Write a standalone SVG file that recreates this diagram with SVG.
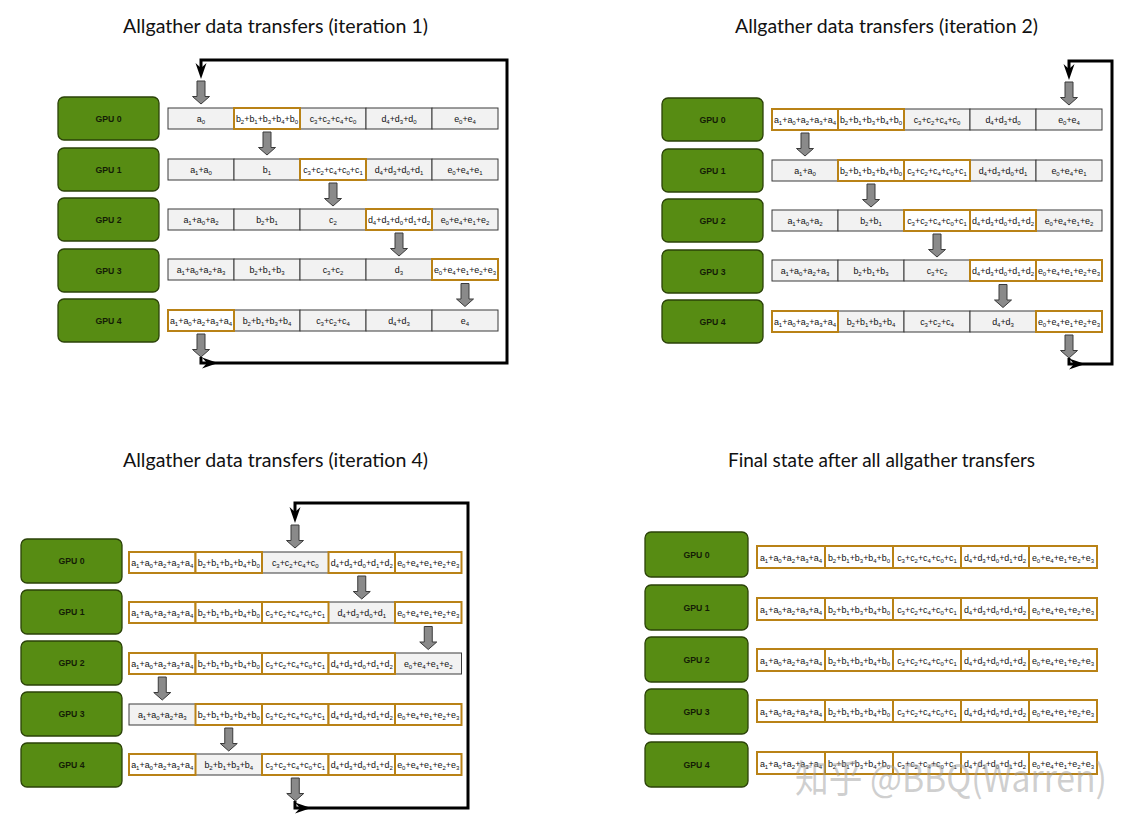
<svg xmlns="http://www.w3.org/2000/svg" xmlns:xlink="http://www.w3.org/1999/xlink" width="1137" height="828" viewBox="0 0 1137 828">
<style>
.ti{font-family:"Lato","Liberation Sans",sans-serif;font-size:19.5px;fill:#111;text-anchor:middle}
.g{fill:#578c13;stroke:#2b4208;stroke-width:1.3}
.gl{font-family:"Liberation Sans",Arial,sans-serif;font-weight:bold;font-size:8.7px;fill:#141c06;text-anchor:middle}
.c{fill:#f2f2f2;stroke:#3a3a3a;stroke-width:1}
.h{fill:#fff;stroke:#b98216;stroke-width:2}
.t{font-family:"Liberation Sans",Arial,sans-serif;font-size:8.9px;fill:#111;text-anchor:middle}
.s{font-size:6px;baseline-shift:-2px}
.ga{fill:#8a8a8a;stroke:#3a3a3a;stroke-width:1}
.lp{fill:none;stroke:#000;stroke-width:3}
.wm{font-family:"Noto Sans CJK SC","Liberation Sans",sans-serif;font-size:38px;fill:#a0a0a0;fill-opacity:0.5}
</style>
<defs>
<path id="ga" class="ga" d="M-4,0 H4 V15.5 H8.5 L0,23 L-8.5,15.5 H-4 Z"/>
<path id="hd" d="M0,0 L-5.5,-16 L0,-11 L5.5,-16 Z" fill="#000"/>
<path id="hr" d="M0,0 L-16,5.5 L-11,0 L-16,-5.5 Z" fill="#000"/>
</defs>
<rect width="1137" height="828" fill="#fff"/>
<g id="titles">
<text class="ti" x="275.5" y="33" textLength="305" lengthAdjust="spacingAndGlyphs">Allgather data transfers (iteration 1)</text>
<text class="ti" x="886.5" y="33" textLength="303" lengthAdjust="spacingAndGlyphs">Allgather data transfers (iteration 2)</text>
<text class="ti" x="275.5" y="467" textLength="305" lengthAdjust="spacingAndGlyphs">Allgather data transfers (iteration 4)</text>
<text class="ti" x="881.5" y="467" textLength="307" lengthAdjust="spacingAndGlyphs">Final state after all allgather transfers</text>
</g>

<!-- ===== Panel 1 ===== -->
<g id="p1-gpu0">
<rect class="g" x="58" y="97" width="101" height="43" rx="6"/>
<text class="gl" x="108.5" y="121.5">GPU 0</text>
<rect class="c" x="168" y="108" width="66" height="21"/><rect class="c" x="300" y="108" width="66" height="21"/><rect class="c" x="366" y="108" width="66" height="21"/><rect class="c" x="432" y="108" width="66" height="21"/>
<rect class="h" x="234" y="108" width="66" height="21"/>
<text class="t" x="201" y="122">a<tspan class="s">0</tspan></text>
<text class="t" x="267" y="122">b<tspan class="s">2</tspan>+b<tspan class="s">1</tspan>+b<tspan class="s">3</tspan>+b<tspan class="s">4</tspan>+b<tspan class="s">0</tspan></text>
<text class="t" x="333" y="122">c<tspan class="s">3</tspan>+c<tspan class="s">2</tspan>+c<tspan class="s">4</tspan>+c<tspan class="s">0</tspan></text>
<text class="t" x="399" y="122">d<tspan class="s">4</tspan>+d<tspan class="s">3</tspan>+d<tspan class="s">0</tspan></text>
<text class="t" x="465" y="122">e<tspan class="s">0</tspan>+e<tspan class="s">4</tspan></text>
</g>
<g id="p1-gpu1">
<rect class="g" x="58" y="148" width="101" height="43" rx="6"/>
<text class="gl" x="108.5" y="172.5">GPU 1</text>
<rect class="c" x="168" y="159" width="66" height="21"/><rect class="c" x="234" y="159" width="66" height="21"/><rect class="c" x="366" y="159" width="66" height="21"/><rect class="c" x="432" y="159" width="66" height="21"/>
<rect class="h" x="300" y="159" width="66" height="21"/>
<text class="t" x="201" y="173">a<tspan class="s">1</tspan>+a<tspan class="s">0</tspan></text>
<text class="t" x="267" y="173">b<tspan class="s">1</tspan></text>
<text class="t" x="333" y="173">c<tspan class="s">3</tspan>+c<tspan class="s">2</tspan>+c<tspan class="s">4</tspan>+c<tspan class="s">0</tspan>+c<tspan class="s">1</tspan></text>
<text class="t" x="399" y="173">d<tspan class="s">4</tspan>+d<tspan class="s">3</tspan>+d<tspan class="s">0</tspan>+d<tspan class="s">1</tspan></text>
<text class="t" x="465" y="173">e<tspan class="s">0</tspan>+e<tspan class="s">4</tspan>+e<tspan class="s">1</tspan></text>
</g>
<g id="p1-gpu2">
<rect class="g" x="58" y="198" width="101" height="43" rx="6"/>
<text class="gl" x="108.5" y="222.5">GPU 2</text>
<rect class="c" x="168" y="209" width="66" height="21"/><rect class="c" x="234" y="209" width="66" height="21"/><rect class="c" x="300" y="209" width="66" height="21"/><rect class="c" x="432" y="209" width="66" height="21"/>
<rect class="h" x="366" y="209" width="66" height="21"/>
<text class="t" x="201" y="223">a<tspan class="s">1</tspan>+a<tspan class="s">0</tspan>+a<tspan class="s">2</tspan></text>
<text class="t" x="267" y="223">b<tspan class="s">2</tspan>+b<tspan class="s">1</tspan></text>
<text class="t" x="333" y="223">c<tspan class="s">2</tspan></text>
<text class="t" x="399" y="223">d<tspan class="s">4</tspan>+d<tspan class="s">3</tspan>+d<tspan class="s">0</tspan>+d<tspan class="s">1</tspan>+d<tspan class="s">2</tspan></text>
<text class="t" x="465" y="223">e<tspan class="s">0</tspan>+e<tspan class="s">4</tspan>+e<tspan class="s">1</tspan>+e<tspan class="s">2</tspan></text>
</g>
<g id="p1-gpu3">
<rect class="g" x="58" y="249" width="101" height="43" rx="6"/>
<text class="gl" x="108.5" y="273.5">GPU 3</text>
<rect class="c" x="168" y="259" width="66" height="21"/><rect class="c" x="234" y="259" width="66" height="21"/><rect class="c" x="300" y="259" width="66" height="21"/><rect class="c" x="366" y="259" width="66" height="21"/>
<rect class="h" x="432" y="259" width="66" height="21"/>
<text class="t" x="201" y="273">a<tspan class="s">1</tspan>+a<tspan class="s">0</tspan>+a<tspan class="s">2</tspan>+a<tspan class="s">3</tspan></text>
<text class="t" x="267" y="273">b<tspan class="s">2</tspan>+b<tspan class="s">1</tspan>+b<tspan class="s">3</tspan></text>
<text class="t" x="333" y="273">c<tspan class="s">3</tspan>+c<tspan class="s">2</tspan></text>
<text class="t" x="399" y="273">d<tspan class="s">3</tspan></text>
<text class="t" x="465" y="273">e<tspan class="s">0</tspan>+e<tspan class="s">4</tspan>+e<tspan class="s">1</tspan>+e<tspan class="s">2</tspan>+e<tspan class="s">3</tspan></text>
</g>
<g id="p1-gpu4">
<rect class="g" x="58" y="299" width="101" height="43" rx="6"/>
<text class="gl" x="108.5" y="323.5">GPU 4</text>
<rect class="c" x="234" y="310" width="66" height="21"/><rect class="c" x="300" y="310" width="66" height="21"/><rect class="c" x="366" y="310" width="66" height="21"/><rect class="c" x="432" y="310" width="66" height="21"/>
<rect class="h" x="168" y="310" width="66" height="21"/>
<text class="t" x="201" y="324">a<tspan class="s">1</tspan>+a<tspan class="s">0</tspan>+a<tspan class="s">2</tspan>+a<tspan class="s">3</tspan>+a<tspan class="s">4</tspan></text>
<text class="t" x="267" y="324">b<tspan class="s">2</tspan>+b<tspan class="s">1</tspan>+b<tspan class="s">3</tspan>+b<tspan class="s">4</tspan></text>
<text class="t" x="333" y="324">c<tspan class="s">3</tspan>+c<tspan class="s">2</tspan>+c<tspan class="s">4</tspan></text>
<text class="t" x="399" y="324">d<tspan class="s">4</tspan>+d<tspan class="s">3</tspan></text>
<text class="t" x="465" y="324">e<tspan class="s">4</tspan></text>
</g>

<!-- ===== Panel 2 ===== -->
<g id="p2-gpu0">
<rect class="g" x="662" y="98" width="101" height="43" rx="6"/>
<text class="gl" x="712.5" y="122.5">GPU 0</text>
<rect class="c" x="904" y="109" width="66" height="21"/><rect class="c" x="970" y="109" width="66" height="21"/><rect class="c" x="1036" y="109" width="66" height="21"/>
<rect class="h" x="772" y="109" width="66" height="21"/><rect class="h" x="838" y="109" width="66" height="21"/>
<text class="t" x="805" y="123">a<tspan class="s">1</tspan>+a<tspan class="s">0</tspan>+a<tspan class="s">2</tspan>+a<tspan class="s">3</tspan>+a<tspan class="s">4</tspan></text>
<text class="t" x="871" y="123">b<tspan class="s">2</tspan>+b<tspan class="s">1</tspan>+b<tspan class="s">3</tspan>+b<tspan class="s">4</tspan>+b<tspan class="s">0</tspan></text>
<text class="t" x="937" y="123">c<tspan class="s">3</tspan>+c<tspan class="s">2</tspan>+c<tspan class="s">4</tspan>+c<tspan class="s">0</tspan></text>
<text class="t" x="1003" y="123">d<tspan class="s">4</tspan>+d<tspan class="s">3</tspan>+d<tspan class="s">0</tspan></text>
<text class="t" x="1069" y="123">e<tspan class="s">0</tspan>+e<tspan class="s">4</tspan></text>
</g>
<g id="p2-gpu1">
<rect class="g" x="662" y="149" width="101" height="43" rx="6"/>
<text class="gl" x="712.5" y="173.5">GPU 1</text>
<rect class="c" x="772" y="160" width="66" height="21"/><rect class="c" x="970" y="160" width="66" height="21"/><rect class="c" x="1036" y="160" width="66" height="21"/>
<rect class="h" x="838" y="160" width="66" height="21"/><rect class="h" x="904" y="160" width="66" height="21"/>
<text class="t" x="805" y="174">a<tspan class="s">1</tspan>+a<tspan class="s">0</tspan></text>
<text class="t" x="871" y="174">b<tspan class="s">2</tspan>+b<tspan class="s">1</tspan>+b<tspan class="s">3</tspan>+b<tspan class="s">4</tspan>+b<tspan class="s">0</tspan></text>
<text class="t" x="937" y="174">c<tspan class="s">3</tspan>+c<tspan class="s">2</tspan>+c<tspan class="s">4</tspan>+c<tspan class="s">0</tspan>+c<tspan class="s">1</tspan></text>
<text class="t" x="1003" y="174">d<tspan class="s">4</tspan>+d<tspan class="s">3</tspan>+d<tspan class="s">0</tspan>+d<tspan class="s">1</tspan></text>
<text class="t" x="1069" y="174">e<tspan class="s">0</tspan>+e<tspan class="s">4</tspan>+e<tspan class="s">1</tspan></text>
</g>
<g id="p2-gpu2">
<rect class="g" x="662" y="199" width="101" height="43" rx="6"/>
<text class="gl" x="712.5" y="223.5">GPU 2</text>
<rect class="c" x="772" y="210" width="66" height="21"/><rect class="c" x="838" y="210" width="66" height="21"/><rect class="c" x="1036" y="210" width="66" height="21"/>
<rect class="h" x="904" y="210" width="66" height="21"/><rect class="h" x="970" y="210" width="66" height="21"/>
<text class="t" x="805" y="224">a<tspan class="s">1</tspan>+a<tspan class="s">0</tspan>+a<tspan class="s">2</tspan></text>
<text class="t" x="871" y="224">b<tspan class="s">2</tspan>+b<tspan class="s">1</tspan></text>
<text class="t" x="937" y="224">c<tspan class="s">3</tspan>+c<tspan class="s">2</tspan>+c<tspan class="s">4</tspan>+c<tspan class="s">0</tspan>+c<tspan class="s">1</tspan></text>
<text class="t" x="1003" y="224">d<tspan class="s">4</tspan>+d<tspan class="s">3</tspan>+d<tspan class="s">0</tspan>+d<tspan class="s">1</tspan>+d<tspan class="s">2</tspan></text>
<text class="t" x="1069" y="224">e<tspan class="s">0</tspan>+e<tspan class="s">4</tspan>+e<tspan class="s">1</tspan>+e<tspan class="s">2</tspan></text>
</g>
<g id="p2-gpu3">
<rect class="g" x="662" y="250" width="101" height="43" rx="6"/>
<text class="gl" x="712.5" y="274.5">GPU 3</text>
<rect class="c" x="772" y="260" width="66" height="21"/><rect class="c" x="838" y="260" width="66" height="21"/><rect class="c" x="904" y="260" width="66" height="21"/>
<rect class="h" x="970" y="260" width="66" height="21"/><rect class="h" x="1036" y="260" width="66" height="21"/>
<text class="t" x="805" y="274">a<tspan class="s">1</tspan>+a<tspan class="s">0</tspan>+a<tspan class="s">2</tspan>+a<tspan class="s">3</tspan></text>
<text class="t" x="871" y="274">b<tspan class="s">2</tspan>+b<tspan class="s">1</tspan>+b<tspan class="s">3</tspan></text>
<text class="t" x="937" y="274">c<tspan class="s">3</tspan>+c<tspan class="s">2</tspan></text>
<text class="t" x="1003" y="274">d<tspan class="s">4</tspan>+d<tspan class="s">3</tspan>+d<tspan class="s">0</tspan>+d<tspan class="s">1</tspan>+d<tspan class="s">2</tspan></text>
<text class="t" x="1069" y="274">e<tspan class="s">0</tspan>+e<tspan class="s">4</tspan>+e<tspan class="s">1</tspan>+e<tspan class="s">2</tspan>+e<tspan class="s">3</tspan></text>
</g>
<g id="p2-gpu4">
<rect class="g" x="662" y="300" width="101" height="43" rx="6"/>
<text class="gl" x="712.5" y="324.5">GPU 4</text>
<rect class="c" x="838" y="311" width="66" height="21"/><rect class="c" x="904" y="311" width="66" height="21"/><rect class="c" x="970" y="311" width="66" height="21"/>
<rect class="h" x="772" y="311" width="66" height="21"/><rect class="h" x="1036" y="311" width="66" height="21"/>
<text class="t" x="805" y="325">a<tspan class="s">1</tspan>+a<tspan class="s">0</tspan>+a<tspan class="s">2</tspan>+a<tspan class="s">3</tspan>+a<tspan class="s">4</tspan></text>
<text class="t" x="871" y="325">b<tspan class="s">2</tspan>+b<tspan class="s">1</tspan>+b<tspan class="s">3</tspan>+b<tspan class="s">4</tspan></text>
<text class="t" x="937" y="325">c<tspan class="s">3</tspan>+c<tspan class="s">2</tspan>+c<tspan class="s">4</tspan></text>
<text class="t" x="1003" y="325">d<tspan class="s">4</tspan>+d<tspan class="s">3</tspan></text>
<text class="t" x="1069" y="325">e<tspan class="s">0</tspan>+e<tspan class="s">4</tspan>+e<tspan class="s">1</tspan>+e<tspan class="s">2</tspan>+e<tspan class="s">3</tspan></text>
</g>

<!-- ===== Panel 3 ===== -->
<g id="p3-gpu0">
<rect class="g" x="21" y="539" width="101" height="44" rx="6"/>
<text class="gl" x="71.5" y="564">GPU 0</text>
<rect class="c" x="262" y="552" width="66.5" height="21"/>
<rect class="h" x="129" y="552" width="66.5" height="21"/><rect class="h" x="195.5" y="552" width="66.5" height="21"/><rect class="h" x="328.5" y="552" width="66.5" height="21"/><rect class="h" x="395" y="552" width="66.5" height="21"/>
<text class="t" x="162.25" y="566">a<tspan class="s">1</tspan>+a<tspan class="s">0</tspan>+a<tspan class="s">2</tspan>+a<tspan class="s">3</tspan>+a<tspan class="s">4</tspan></text>
<text class="t" x="228.75" y="566">b<tspan class="s">2</tspan>+b<tspan class="s">1</tspan>+b<tspan class="s">3</tspan>+b<tspan class="s">4</tspan>+b<tspan class="s">0</tspan></text>
<text class="t" x="295.25" y="566">c<tspan class="s">3</tspan>+c<tspan class="s">2</tspan>+c<tspan class="s">4</tspan>+c<tspan class="s">0</tspan></text>
<text class="t" x="361.75" y="566">d<tspan class="s">4</tspan>+d<tspan class="s">3</tspan>+d<tspan class="s">0</tspan>+d<tspan class="s">1</tspan>+d<tspan class="s">2</tspan></text>
<text class="t" x="428.25" y="566">e<tspan class="s">0</tspan>+e<tspan class="s">4</tspan>+e<tspan class="s">1</tspan>+e<tspan class="s">2</tspan>+e<tspan class="s">3</tspan></text>
</g>
<g id="p3-gpu1">
<rect class="g" x="21" y="590" width="101" height="44" rx="6"/>
<text class="gl" x="71.5" y="615">GPU 1</text>
<rect class="c" x="328.5" y="602" width="66.5" height="21"/>
<rect class="h" x="129" y="602" width="66.5" height="21"/><rect class="h" x="195.5" y="602" width="66.5" height="21"/><rect class="h" x="262" y="602" width="66.5" height="21"/><rect class="h" x="395" y="602" width="66.5" height="21"/>
<text class="t" x="162.25" y="616">a<tspan class="s">1</tspan>+a<tspan class="s">0</tspan>+a<tspan class="s">2</tspan>+a<tspan class="s">3</tspan>+a<tspan class="s">4</tspan></text>
<text class="t" x="228.75" y="616">b<tspan class="s">2</tspan>+b<tspan class="s">1</tspan>+b<tspan class="s">3</tspan>+b<tspan class="s">4</tspan>+b<tspan class="s">0</tspan></text>
<text class="t" x="295.25" y="616">c<tspan class="s">3</tspan>+c<tspan class="s">2</tspan>+c<tspan class="s">4</tspan>+c<tspan class="s">0</tspan>+c<tspan class="s">1</tspan></text>
<text class="t" x="361.75" y="616">d<tspan class="s">4</tspan>+d<tspan class="s">3</tspan>+d<tspan class="s">0</tspan>+d<tspan class="s">1</tspan></text>
<text class="t" x="428.25" y="616">e<tspan class="s">0</tspan>+e<tspan class="s">4</tspan>+e<tspan class="s">1</tspan>+e<tspan class="s">2</tspan>+e<tspan class="s">3</tspan></text>
</g>
<g id="p3-gpu2">
<rect class="g" x="21" y="641" width="101" height="44" rx="6"/>
<text class="gl" x="71.5" y="666">GPU 2</text>
<rect class="c" x="395" y="653" width="66.5" height="21"/>
<rect class="h" x="129" y="653" width="66.5" height="21"/><rect class="h" x="195.5" y="653" width="66.5" height="21"/><rect class="h" x="262" y="653" width="66.5" height="21"/><rect class="h" x="328.5" y="653" width="66.5" height="21"/>
<text class="t" x="162.25" y="667">a<tspan class="s">1</tspan>+a<tspan class="s">0</tspan>+a<tspan class="s">2</tspan>+a<tspan class="s">3</tspan>+a<tspan class="s">4</tspan></text>
<text class="t" x="228.75" y="667">b<tspan class="s">2</tspan>+b<tspan class="s">1</tspan>+b<tspan class="s">3</tspan>+b<tspan class="s">4</tspan>+b<tspan class="s">0</tspan></text>
<text class="t" x="295.25" y="667">c<tspan class="s">3</tspan>+c<tspan class="s">2</tspan>+c<tspan class="s">4</tspan>+c<tspan class="s">0</tspan>+c<tspan class="s">1</tspan></text>
<text class="t" x="361.75" y="667">d<tspan class="s">4</tspan>+d<tspan class="s">3</tspan>+d<tspan class="s">0</tspan>+d<tspan class="s">1</tspan>+d<tspan class="s">2</tspan></text>
<text class="t" x="428.25" y="667">e<tspan class="s">0</tspan>+e<tspan class="s">4</tspan>+e<tspan class="s">1</tspan>+e<tspan class="s">2</tspan></text>
</g>
<g id="p3-gpu3">
<rect class="g" x="21" y="692" width="101" height="44" rx="6"/>
<text class="gl" x="71.5" y="717">GPU 3</text>
<rect class="c" x="129" y="704" width="66.5" height="21"/>
<rect class="h" x="195.5" y="704" width="66.5" height="21"/><rect class="h" x="262" y="704" width="66.5" height="21"/><rect class="h" x="328.5" y="704" width="66.5" height="21"/><rect class="h" x="395" y="704" width="66.5" height="21"/>
<text class="t" x="162.25" y="718">a<tspan class="s">1</tspan>+a<tspan class="s">0</tspan>+a<tspan class="s">2</tspan>+a<tspan class="s">3</tspan></text>
<text class="t" x="228.75" y="718">b<tspan class="s">2</tspan>+b<tspan class="s">1</tspan>+b<tspan class="s">3</tspan>+b<tspan class="s">4</tspan>+b<tspan class="s">0</tspan></text>
<text class="t" x="295.25" y="718">c<tspan class="s">3</tspan>+c<tspan class="s">2</tspan>+c<tspan class="s">4</tspan>+c<tspan class="s">0</tspan>+c<tspan class="s">1</tspan></text>
<text class="t" x="361.75" y="718">d<tspan class="s">4</tspan>+d<tspan class="s">3</tspan>+d<tspan class="s">0</tspan>+d<tspan class="s">1</tspan>+d<tspan class="s">2</tspan></text>
<text class="t" x="428.25" y="718">e<tspan class="s">0</tspan>+e<tspan class="s">4</tspan>+e<tspan class="s">1</tspan>+e<tspan class="s">2</tspan>+e<tspan class="s">3</tspan></text>
</g>
<g id="p3-gpu4">
<rect class="g" x="21" y="743" width="101" height="44" rx="6"/>
<text class="gl" x="71.5" y="768">GPU 4</text>
<rect class="c" x="195.5" y="754" width="66.5" height="21"/>
<rect class="h" x="129" y="754" width="66.5" height="21"/><rect class="h" x="262" y="754" width="66.5" height="21"/><rect class="h" x="328.5" y="754" width="66.5" height="21"/><rect class="h" x="395" y="754" width="66.5" height="21"/>
<text class="t" x="162.25" y="768">a<tspan class="s">1</tspan>+a<tspan class="s">0</tspan>+a<tspan class="s">2</tspan>+a<tspan class="s">3</tspan>+a<tspan class="s">4</tspan></text>
<text class="t" x="228.75" y="768">b<tspan class="s">2</tspan>+b<tspan class="s">1</tspan>+b<tspan class="s">3</tspan>+b<tspan class="s">4</tspan></text>
<text class="t" x="295.25" y="768">c<tspan class="s">3</tspan>+c<tspan class="s">2</tspan>+c<tspan class="s">4</tspan>+c<tspan class="s">0</tspan>+c<tspan class="s">1</tspan></text>
<text class="t" x="361.75" y="768">d<tspan class="s">4</tspan>+d<tspan class="s">3</tspan>+d<tspan class="s">0</tspan>+d<tspan class="s">1</tspan>+d<tspan class="s">2</tspan></text>
<text class="t" x="428.25" y="768">e<tspan class="s">0</tspan>+e<tspan class="s">4</tspan>+e<tspan class="s">1</tspan>+e<tspan class="s">2</tspan>+e<tspan class="s">3</tspan></text>
</g>

<!-- ===== Panel 4 ===== -->
<g id="p4-gpu0">
<rect class="g" x="645" y="532" width="103" height="45" rx="6"/>
<text class="gl" x="696.5" y="558">GPU 0</text>
<rect class="h" x="757" y="546" width="68" height="22"/><rect class="h" x="825" y="546" width="68" height="22"/><rect class="h" x="893" y="546" width="68" height="22"/><rect class="h" x="961" y="546" width="68" height="22"/><rect class="h" x="1029" y="546" width="68" height="22"/>
<text class="t" x="791" y="561">a<tspan class="s">1</tspan>+a<tspan class="s">0</tspan>+a<tspan class="s">2</tspan>+a<tspan class="s">3</tspan>+a<tspan class="s">4</tspan></text>
<text class="t" x="859" y="561">b<tspan class="s">2</tspan>+b<tspan class="s">1</tspan>+b<tspan class="s">3</tspan>+b<tspan class="s">4</tspan>+b<tspan class="s">0</tspan></text>
<text class="t" x="927" y="561">c<tspan class="s">3</tspan>+c<tspan class="s">2</tspan>+c<tspan class="s">4</tspan>+c<tspan class="s">0</tspan>+c<tspan class="s">1</tspan></text>
<text class="t" x="995" y="561">d<tspan class="s">4</tspan>+d<tspan class="s">3</tspan>+d<tspan class="s">0</tspan>+d<tspan class="s">1</tspan>+d<tspan class="s">2</tspan></text>
<text class="t" x="1063" y="561">e<tspan class="s">0</tspan>+e<tspan class="s">4</tspan>+e<tspan class="s">1</tspan>+e<tspan class="s">2</tspan>+e<tspan class="s">3</tspan></text>
</g>
<g id="p4-gpu1">
<rect class="g" x="645" y="585" width="103" height="45" rx="6"/>
<text class="gl" x="696.5" y="611">GPU 1</text>
<rect class="h" x="757" y="598" width="68" height="22"/><rect class="h" x="825" y="598" width="68" height="22"/><rect class="h" x="893" y="598" width="68" height="22"/><rect class="h" x="961" y="598" width="68" height="22"/><rect class="h" x="1029" y="598" width="68" height="22"/>
<text class="t" x="791" y="613">a<tspan class="s">1</tspan>+a<tspan class="s">0</tspan>+a<tspan class="s">2</tspan>+a<tspan class="s">3</tspan>+a<tspan class="s">4</tspan></text>
<text class="t" x="859" y="613">b<tspan class="s">2</tspan>+b<tspan class="s">1</tspan>+b<tspan class="s">3</tspan>+b<tspan class="s">4</tspan>+b<tspan class="s">0</tspan></text>
<text class="t" x="927" y="613">c<tspan class="s">3</tspan>+c<tspan class="s">2</tspan>+c<tspan class="s">4</tspan>+c<tspan class="s">0</tspan>+c<tspan class="s">1</tspan></text>
<text class="t" x="995" y="613">d<tspan class="s">4</tspan>+d<tspan class="s">3</tspan>+d<tspan class="s">0</tspan>+d<tspan class="s">1</tspan>+d<tspan class="s">2</tspan></text>
<text class="t" x="1063" y="613">e<tspan class="s">0</tspan>+e<tspan class="s">4</tspan>+e<tspan class="s">1</tspan>+e<tspan class="s">2</tspan>+e<tspan class="s">3</tspan></text>
</g>
<g id="p4-gpu2">
<rect class="g" x="645" y="637" width="103" height="45" rx="6"/>
<text class="gl" x="696.5" y="663">GPU 2</text>
<rect class="h" x="757" y="649" width="68" height="22"/><rect class="h" x="825" y="649" width="68" height="22"/><rect class="h" x="893" y="649" width="68" height="22"/><rect class="h" x="961" y="649" width="68" height="22"/><rect class="h" x="1029" y="649" width="68" height="22"/>
<text class="t" x="791" y="664">a<tspan class="s">1</tspan>+a<tspan class="s">0</tspan>+a<tspan class="s">2</tspan>+a<tspan class="s">3</tspan>+a<tspan class="s">4</tspan></text>
<text class="t" x="859" y="664">b<tspan class="s">2</tspan>+b<tspan class="s">1</tspan>+b<tspan class="s">3</tspan>+b<tspan class="s">4</tspan>+b<tspan class="s">0</tspan></text>
<text class="t" x="927" y="664">c<tspan class="s">3</tspan>+c<tspan class="s">2</tspan>+c<tspan class="s">4</tspan>+c<tspan class="s">0</tspan>+c<tspan class="s">1</tspan></text>
<text class="t" x="995" y="664">d<tspan class="s">4</tspan>+d<tspan class="s">3</tspan>+d<tspan class="s">0</tspan>+d<tspan class="s">1</tspan>+d<tspan class="s">2</tspan></text>
<text class="t" x="1063" y="664">e<tspan class="s">0</tspan>+e<tspan class="s">4</tspan>+e<tspan class="s">1</tspan>+e<tspan class="s">2</tspan>+e<tspan class="s">3</tspan></text>
</g>
<g id="p4-gpu3">
<rect class="g" x="645" y="689" width="103" height="45" rx="6"/>
<text class="gl" x="696.5" y="715">GPU 3</text>
<rect class="h" x="757" y="700" width="68" height="22"/><rect class="h" x="825" y="700" width="68" height="22"/><rect class="h" x="893" y="700" width="68" height="22"/><rect class="h" x="961" y="700" width="68" height="22"/><rect class="h" x="1029" y="700" width="68" height="22"/>
<text class="t" x="791" y="715">a<tspan class="s">1</tspan>+a<tspan class="s">0</tspan>+a<tspan class="s">2</tspan>+a<tspan class="s">3</tspan>+a<tspan class="s">4</tspan></text>
<text class="t" x="859" y="715">b<tspan class="s">2</tspan>+b<tspan class="s">1</tspan>+b<tspan class="s">3</tspan>+b<tspan class="s">4</tspan>+b<tspan class="s">0</tspan></text>
<text class="t" x="927" y="715">c<tspan class="s">3</tspan>+c<tspan class="s">2</tspan>+c<tspan class="s">4</tspan>+c<tspan class="s">0</tspan>+c<tspan class="s">1</tspan></text>
<text class="t" x="995" y="715">d<tspan class="s">4</tspan>+d<tspan class="s">3</tspan>+d<tspan class="s">0</tspan>+d<tspan class="s">1</tspan>+d<tspan class="s">2</tspan></text>
<text class="t" x="1063" y="715">e<tspan class="s">0</tspan>+e<tspan class="s">4</tspan>+e<tspan class="s">1</tspan>+e<tspan class="s">2</tspan>+e<tspan class="s">3</tspan></text>
</g>
<g id="p4-gpu4">
<rect class="g" x="645" y="742" width="103" height="45" rx="6"/>
<text class="gl" x="696.5" y="768">GPU 4</text>
<rect class="h" x="757" y="752" width="68" height="22"/><rect class="h" x="825" y="752" width="68" height="22"/><rect class="h" x="893" y="752" width="68" height="22"/><rect class="h" x="961" y="752" width="68" height="22"/><rect class="h" x="1029" y="752" width="68" height="22"/>
<text class="t" x="791" y="767">a<tspan class="s">1</tspan>+a<tspan class="s">0</tspan>+a<tspan class="s">2</tspan>+a<tspan class="s">3</tspan>+a<tspan class="s">4</tspan></text>
<text class="t" x="859" y="767">b<tspan class="s">2</tspan>+b<tspan class="s">1</tspan>+b<tspan class="s">3</tspan>+b<tspan class="s">4</tspan>+b<tspan class="s">0</tspan></text>
<text class="t" x="927" y="767">c<tspan class="s">3</tspan>+c<tspan class="s">2</tspan>+c<tspan class="s">4</tspan>+c<tspan class="s">0</tspan>+c<tspan class="s">1</tspan></text>
<text class="t" x="995" y="767">d<tspan class="s">4</tspan>+d<tspan class="s">3</tspan>+d<tspan class="s">0</tspan>+d<tspan class="s">1</tspan>+d<tspan class="s">2</tspan></text>
<text class="t" x="1063" y="767">e<tspan class="s">0</tspan>+e<tspan class="s">4</tspan>+e<tspan class="s">1</tspan>+e<tspan class="s">2</tspan>+e<tspan class="s">3</tspan></text>
</g>

<g id="connectors">
<!-- panel 1 -->
<path class="lp" d="M201,357 V363 H507 V60 H201 V68"/>
<use xlink:href="#hd" href="#hd" x="201" y="79"/>
<use xlink:href="#hr" href="#hr" x="218" y="363"/>
<use xlink:href="#ga" href="#ga" x="201" y="81"/>
<use xlink:href="#ga" href="#ga" x="267" y="132"/>
<use xlink:href="#ga" href="#ga" x="333" y="183"/>
<use xlink:href="#ga" href="#ga" x="399" y="233"/>
<use xlink:href="#ga" href="#ga" x="465" y="283.5"/>
<use xlink:href="#ga" href="#ga" x="201" y="334"/>
<!-- panel 2 -->
<path class="lp" d="M1069,358 V364 H1112 V61 H1069 V69"/>
<use xlink:href="#hd" href="#hd" x="1069" y="80"/>
<use xlink:href="#hr" href="#hr" x="1085" y="364"/>
<use xlink:href="#ga" href="#ga" x="1069" y="82"/>
<use xlink:href="#ga" href="#ga" x="805" y="133"/>
<use xlink:href="#ga" href="#ga" x="871" y="184"/>
<use xlink:href="#ga" href="#ga" x="937" y="234"/>
<use xlink:href="#ga" href="#ga" x="1003" y="284.5"/>
<use xlink:href="#ga" href="#ga" x="1069" y="335"/>
<!-- panel 3 -->
<path class="lp" d="M295,801 V808 H468 V503 H295 V512"/>
<use xlink:href="#hd" href="#hd" x="295" y="523"/>
<use xlink:href="#hr" href="#hr" x="311" y="808"/>
<use xlink:href="#ga" href="#ga" x="295" y="525"/>
<use xlink:href="#ga" href="#ga" x="361.75" y="576"/>
<use xlink:href="#ga" href="#ga" x="428.25" y="626.5"/>
<use xlink:href="#ga" href="#ga" x="162.25" y="677"/>
<use xlink:href="#ga" href="#ga" x="228.75" y="728"/>
<use xlink:href="#ga" href="#ga" x="295.25" y="778"/>
</g>

<text class="wm" x="795" y="792" textLength="312" lengthAdjust="spacingAndGlyphs">知乎 @BBQ(Warren)</text>
</svg>
